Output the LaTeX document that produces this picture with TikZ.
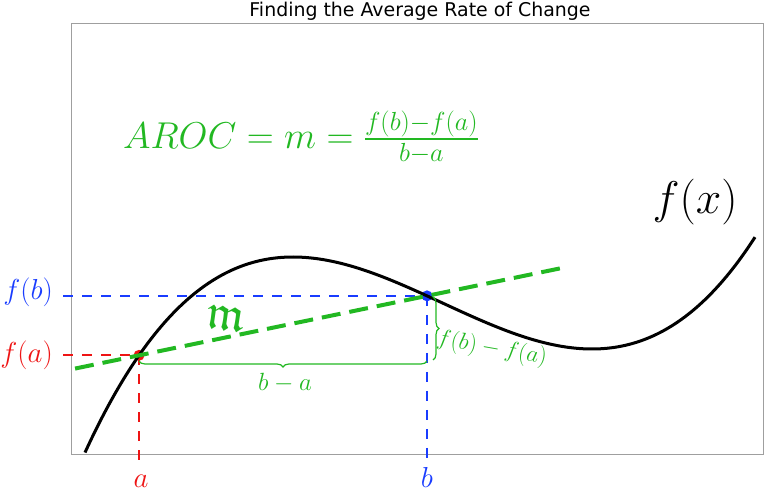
\documentclass[tikz,border=0pt]{standalone}
\usepackage{fix-cm}
\usepackage{amssymb}
\usepackage{fontspec}
\newfontfamily\titlefont{DejaVu Sans}
\usetikzlibrary{calc,decorations.pathreplacing}
\definecolor{arocgreen}{RGB}{34,184,34}
\definecolor{fbblue}{RGB}{25,60,255}
\definecolor{fared}{RGB}{238,20,20}
\tikzset{
	curve/.style={line width=3bp,black},
	secant/.style={line width=4bp,arocgreen,dash pattern=on 19bp off 9bp},
	guide/.style={line width=2bp,dash pattern=on 10bp off 9bp},
	greenbrace/.style={arocgreen,line width=1.2bp,decorate,decoration={brace,amplitude=6bp}},
	lab/.style={inner sep=0pt},
}
\begin{document}
\begin{tikzpicture}[x=1bp,y=-1bp,
		declare function={f(\t)=257-20.65*(((\t-293)/100)*((\t-293)/100)*((\t-293)/100)/3-1.495*((\t-293)/100)*((\t-293)/100));}]
		\useasboundingbox (0,0) rectangle (768,493);
		% Titel
		\node[font=\titlefont\fontsize{19}{23}\selectfont] (title) at (420,11) {Finding the Average Rate of Change};
		% Box
		\draw[gray!75,line width=1bp] (71,24) rectangle (763,454);
		% Punkte a und b auf der Kurve
		\coordinate (A) at (139,{f(139)});
		\coordinate (B) at (427,{f(427)});
		% Hilfslinien zu den Achsen
		\foreach \p/\x/\c in {A/139/fared,B/427/fbblue}{
			\coordinate (\p left) at (63,{f(\x)});
			\coordinate (\p down) at (\x,462);
			\draw[guide,\c] (\p left) -- (\p);
			\draw[guide,\c] (\p) -- (\p down);
		}
		\fill[fared] (A) circle (5.5bp);
		\fill[fbblue] (B) circle (5.5bp);
		% Kurve f(x)
		\draw[curve] plot[domain=85:755,samples=120,smooth] (\x,{f(\x)});
		% Sekante
		\coordinate (S1) at ($(A)!-0.222!(B)$);
		\coordinate (S2) at ($(A)!1.479!(B)$);
		\draw[secant] (S1) -- (S2);
		% Klammern
		\coordinate (h1) at (139,361);
		\coordinate (h2) at (427,361);
		\draw[greenbrace,decoration={mirror}] (h1) -- (h2);
		\coordinate (v1) at (433,297);
		\coordinate (v2) at (433,360);
		\draw[greenbrace] (v1) -- (v2);
		% Beschriftungen
		\node[lab,arocgreen,font=\fontsize{25}{30}\selectfont] (ba) at (285,383) {$b-a$};
		\node[lab,arocgreen,font=\fontsize{23.5}{28}\selectfont,rotate=-10,anchor=west] (fbfa) at (437,339) {$f(b)-f(a)$};
		\node[lab,arocgreen,font=\fontsize{25}{30}\selectfont,scale=2,rotate=-8] (m) at (226,318) {$\mathfrak{m}$};
		\node[lab,fared,font=\fontsize{29}{34}\selectfont,anchor=base east] (falab) at (53,362) {$f(a)$};
		\node[lab,fbblue,font=\fontsize{29}{34}\selectfont,anchor=base east] (fblab) at (53,300) {$f(b)$};
		\node[lab,fared,font=\fontsize{29}{34}\selectfont,anchor=base] (alab) at (141,487) {$a$};
		\node[lab,fbblue,font=\fontsize{29}{34}\selectfont,anchor=base] (blab) at (427,487) {$b$};
		\node[lab,font=\fontsize{46}{54}\selectfont] (fx) at (695,202) {$f(x)$};
		\node[lab,arocgreen,font=\fontsize{37.5}{44}\selectfont] (aroc) at (301,137) {$AROC=m=\frac{f(b)-f(a)}{b-a}$};
	\end{tikzpicture}
\end{document}
